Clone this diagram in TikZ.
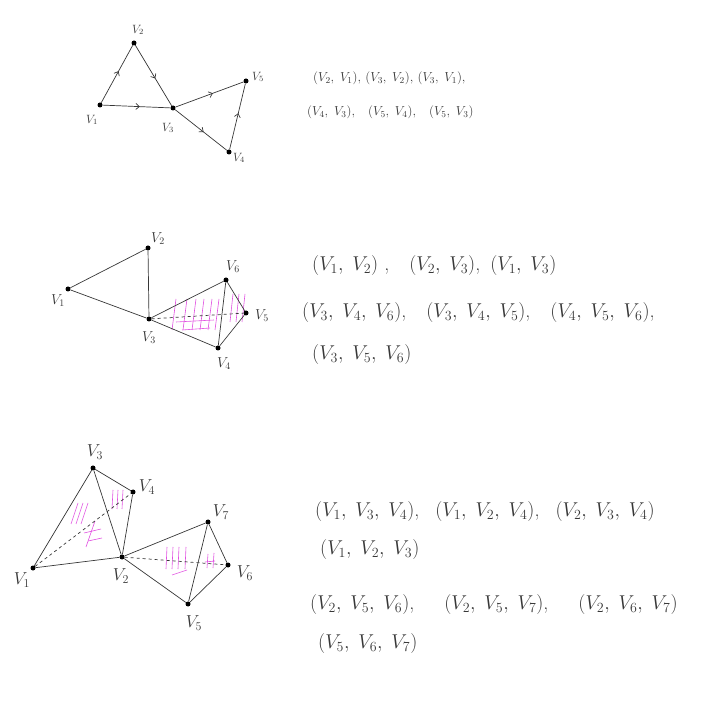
\RequirePackage{fix-cm}
\documentclass[tikz,border=0pt]{standalone}
\usetikzlibrary{arrows.meta,decorations.markings}
\definecolor{ink}{RGB}{55,55,55}
\definecolor{marker}{RGB}{225,80,225}
\tikzstyle{vertex}=[circle,fill=black,minimum size=5pt,inner sep=0pt]
\tikzstyle{edge} = [draw,ink,line width=0.7pt,-]
\tikzstyle{dir edge} = [edge,postaction={decorate},decoration={markings,mark=at position 0.55 with {\arrow{Straight Barb[length=3.5pt,width=6pt]}}}]
\tikzstyle{hidden edge} = [edge,dashed]
\tikzstyle{hatch} = [draw,marker,line width=0.6pt]
\tikzstyle{vlabel} = [inner sep=0pt,text=ink]
\tikzstyle{tuples} = [anchor=west,inner sep=0pt,text=ink,font=\fontsize{20}{24}\selectfont]

\begin{document}
\begin{tikzpicture}[x=1pt,y=-1pt]
	\useasboundingbox (0,0) rectangle (705,703);
	% directed graph
	\node[vertex] (a1) at (100,105) {};
		\node[vertex] (a2) at (134,43) {};
		\node[vertex] (a3) at (173,108) {};
		\node[vertex] (a4) at (229,152) {};
		\node[vertex] (a5) at (246,81) {};
		\node[vlabel,font=\large] (la1) at (92,120) {$V_1$};
		\node[vlabel,font=\large] (la2) at (138,30) {$V_2$};
		\node[vlabel,font=\large] (la3) at (168,128) {$V_3$};
		\node[vlabel,font=\large] (la4) at (239,158) {$V_4$};
		\node[vlabel,font=\large] (la5) at (258,77) {$V_5$};
		\foreach \source/ \dest in {a1/a2, a2/a3, a1/a3, a3/a5, a3/a4, a4/a5}
		\path[dir edge] (\source) to (\dest);
		\node[tuples,font=\fontsize{13}{15}\selectfont] (ta1) at (313,78) {$(V_2,\;V_1)$, $(V_3,\;V_2)$, $(V_3,\;V_1)$,};
		\node[tuples,font=\fontsize{13}{15}\selectfont] (ta2) at (307,112) {$(V_4,\;V_3)$,\quad$(V_5,\;V_4)$,\quad$(V_5,\;V_3)$};

	% complex with two filled triangles
	\node[vertex] (b1) at (68,289) {};
		\node[vertex] (b2) at (148,248) {};
		\node[vertex] (b3) at (149,319) {};
		\node[vertex] (b4) at (218,348) {};
		\node[vertex] (b5) at (246,313) {};
		\node[vertex] (b6) at (226,280) {};
		\node[vlabel,font=\Large] (lb1) at (58,301) {$V_1$};
		\node[vlabel,font=\Large] (lb2) at (158,239) {$V_2$};
		\node[vlabel,font=\Large] (lb3) at (149,338) {$V_3$};
		\node[vlabel,font=\Large] (lb4) at (224,364) {$V_4$};
		\node[vlabel,font=\Large] (lb5) at (262,316) {$V_5$};
		\node[vlabel,font=\Large] (lb6) at (233,267) {$V_6$};
		\foreach \x in {172,183,192,200,208,215}
		\path[hatch] (\x,330) -- (\x+4,299);
		\foreach \x in {230,236,242}
		\path[hatch] (\x,322) -- (\x+3,294);
		\path[hatch] (176,322) -- (214,320);
		\path[hatch] (182,330) -- (210,328);
		\foreach \source/ \dest in {b1/b2, b1/b3, b2/b3, b3/b6, b3/b4, b6/b4, b6/b5, b4/b5}
		\path[edge] (\source) to (\dest);
		\path[hidden edge] (b3) to (b5);
		\node[tuples] (tb1) at (312,266) {$(V_1,\;V_2)$\ ,\quad$(V_2,\;V_3)$,\enspace$(V_1,\;V_3)$};
		\node[tuples] (tb2) at (302,313) {$(V_3,\;V_4,\;V_6)$,\quad$(V_3,\;V_4,\;V_5)$,\quad$(V_4,\;V_5,\;V_6)$,};
		\node[tuples] (tb3) at (312,355) {$(V_3,\;V_5,\;V_6)$};

	% complex with two tetrahedra
	\node[vertex] (c1) at (33,568) {};
		\node[vertex] (c2) at (122,557) {};
		\node[vertex] (c3) at (93,468) {};
		\node[vertex] (c4) at (133,492) {};
		\node[vertex] (c5) at (188,604) {};
		\node[vertex] (c6) at (228,565) {};
		\node[vertex] (c7) at (208,522) {};
		\node[vlabel,font=\LARGE] (lc1) at (22,580) {$V_1$};
		\node[vlabel,font=\LARGE] (lc2) at (121,576) {$V_2$};
		\node[vlabel,font=\LARGE] (lc3) at (95,452) {$V_3$};
		\node[vlabel,font=\LARGE] (lc4) at (147,487) {$V_4$};
		\node[vlabel,font=\LARGE] (lc5) at (194,623) {$V_5$};
		\node[vlabel,font=\LARGE] (lc6) at (245,573) {$V_6$};
		\node[vlabel,font=\LARGE] (lc7) at (221,512) {$V_7$};
		\foreach \x in {71,76,81}
		\path[hatch] (\x,524) -- (\x+7,503);
		\path[hatch] (86,547) -- (95,521);
		\path[hatch] (84,533) -- (101,529);
		\path[hatch] (88,541) -- (102,538);
		\foreach \x in {112,117,122}
		\path[hatch] (\x,509) -- (\x+1,490);
		\foreach \x in {166,172,178,185}
		\path[hatch] (\x,569) -- (\x+1,547);
		\path[hatch] (207,568) -- (208,554);
		\path[hatch] (213,568) -- (214,553);
		\path[hatch] (205,562) -- (215,561);
		\path[hatch] (172,575) -- (187,570);
		\foreach \source/ \dest in {c1/c3, c3/c4, c3/c2, c4/c2, c1/c2, c2/c7, c7/c6, c7/c5, c6/c5, c2/c5}
		\path[edge] (\source) to (\dest);
		\path[hidden edge] (c1) to (c4);
		\path[hidden edge] (c2) to (c6);
		\node[tuples] (tc1) at (315,512) {$(V_1,\;V_3,\;V_4)$,\enspace\ $(V_1,\;V_2,\;V_4)$,\enspace\ $(V_2,\;V_3,\;V_4)$};
		\node[tuples] (tc2) at (320,550) {$(V_1,\;V_2,\;V_3)$};
		\node[tuples] (tc3) at (310,605) {$(V_2,\;V_5,\;V_6)$,\quad\enspace$(V_2,\;V_5,\;V_7)$,\quad\enspace$(V_2,\;V_6,\;V_7)$};
		\node[tuples] (tc4) at (318,643) {$(V_5,\;V_6,\;V_7)$};
\end{tikzpicture}
\end{document}
